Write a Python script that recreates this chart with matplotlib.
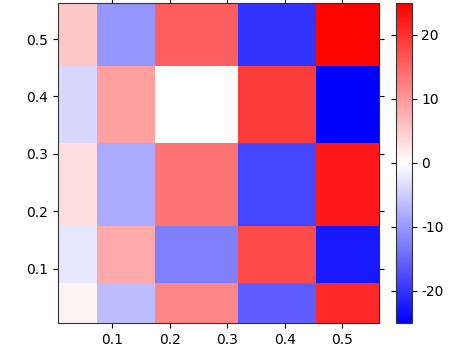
import numpy as np
import matplotlib
matplotlib.use("Agg")
import matplotlib.pyplot as plt

plt.rcParams['axes.unicode_minus'] = False

x_edges = [0.005, 0.074, 0.174, 0.319, 0.4535, 0.563]
y_edges = [0.005, 0.074, 0.174, 0.319, 0.4535, 0.563]

# rows from bottom to top
z = np.array([
    [1.3, -6.4, 11.8, -15.7, 21.0],
    [-2.5, 8.3, -12.5, 17.6, -22.5],
    [3.3, -8.3, 13.7, -18.0, 22.5],
    [-4.0, 9.3, 0.0, 19.0, -25.0],
    [5.4, -10.3, 15.7, -20.0, 24.5],
])

fig = plt.figure(figsize=(4.74, 3.55), dpi=100)
ax = fig.add_axes([57.5/474, (355-323)/355, 321/474, 320/355])
cax = fig.add_axes([395.7/474, (355-323)/355, 16/474, 320/355])

mesh = ax.pcolormesh(x_edges, y_edges, z, cmap='bwr', vmin=-25, vmax=25)
ax.set_xlim(x_edges[0], x_edges[-1])
ax.set_ylim(y_edges[0], y_edges[-1])
ax.set_xticks([0.1, 0.2, 0.3, 0.4, 0.5])
ax.set_yticks([0.1, 0.2, 0.3, 0.4, 0.5])
ax.tick_params(direction='out', top=True, right=True)
for s in ax.spines.values():
    s.set_color('#333333')

cb = fig.colorbar(mesh, cax=cax)
cb.set_ticks([-20, -10, 0, 10, 20])
cax.tick_params(direction='out', left=True, right=True)
cb.outline.set_edgecolor('#333333')

fig.savefig('out.png', dpi=100)
